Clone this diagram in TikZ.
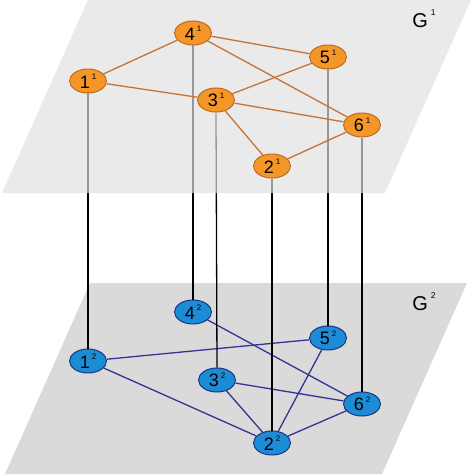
\documentclass[tikz,border=0pt]{standalone}
\usepackage{fontspec}
\setmainfont{Liberation Sans}
\usetikzlibrary{shapes.geometric}
\definecolor{topplane}{RGB}{224,224,224}
\definecolor{botplane}{RGB}{218,218,218}
\definecolor{orfill}{RGB}{244,150,40}
\definecolor{ordraw}{RGB}{190,108,34}
\definecolor{oredge}{RGB}{196,116,58}
\definecolor{blfill}{RGB}{28,140,214}
\definecolor{bldraw}{RGB}{26,54,128}
\definecolor{bledge}{RGB}{52,52,148}
\pgfdeclarelayer{lbplane}
\pgfdeclarelayer{lbedge}
\pgfdeclarelayer{lbnode}
\pgfdeclarelayer{lvert}
\pgfdeclarelayer{ltplane}
\pgfdeclarelayer{ltedge}
\pgfsetlayers{lbplane,lbedge,lbnode,lvert,ltplane,ltedge,main}
\tikzset{
  vtx/.style={ellipse, minimum width=37pt, minimum height=24pt, inner sep=0pt, line width=1pt, font=\fontsize{18}{18}\selectfont},
  onode/.style={vtx, fill=orfill, draw=ordraw},
  bnode/.style={vtx, fill=blfill, draw=bldraw},
  oline/.style={draw=oredge, line width=1.3pt},
  bline/.style={draw=bledge, line width=1.3pt},
  vline/.style={draw=black, line width=1.3pt},
  glabel/.style={font=\fontsize{20}{20}\selectfont},
}
\newcommand{\sps}[1]{\kern2pt\raisebox{8.5pt}{\fontsize{8}{8}\selectfont #1}}
\newcommand{\gsps}[1]{\kern3pt\raisebox{12pt}{\fontsize{8.5}{8.5}\selectfont #1}}
\begin{document}
\begin{tikzpicture}[x=1pt,y=-1pt]
\useasboundingbox (0,0) rectangle (474,476);
% planes
\begin{pgfonlayer}{lbplane}
\fill[botplane] (90,283) -- (467,283) -- (382,474) -- (5,474) -- cycle;
\node[glabel] (g2) at (424,302) {G\gsps{2}};
\end{pgfonlayer}
\begin{pgfonlayer}{ltplane}
\fill[topplane, fill opacity=0.68] (88,0) -- (471,0) -- (385,193) -- (2,193) -- cycle;
\node[glabel] (g1) at (424,19) {G\gsps{1}};
\end{pgfonlayer}
% bottom nodes
\begin{pgfonlayer}{lbnode}
\node[bnode] (b4) at (193,312) {4\sps{2}};
\node[bnode] (b5) at (328,338) {5\sps{2}};
\node[bnode] (b1) at (88,361) {1\sps{2}};
\node[bnode] (b3) at (217,380) {3\sps{2}};
\node[bnode] (b6) at (362,404) {6\sps{2}};
\node[bnode] (b2) at (272,443) {2\sps{2}};
\end{pgfonlayer}
% top nodes
\node[onode] (t4) at (193,33) {4\sps{1}};
\node[onode] (t5) at (328,57) {5\sps{1}};
\node[onode] (t1) at (88,81) {1\sps{1}};
\node[onode] (t3) at (216,100) {3\sps{1}};
\node[onode] (t6) at (362,125) {6\sps{1}};
\node[onode] (t2) at (272,166) {2\sps{1}};
% bottom edges
\begin{pgfonlayer}{lbedge}
\path[bline] (b4) -- (b6);
\path[bline] (b1) -- (b5);
\path[bline] (b1) -- (b2);
\path[bline] (b3) -- (b6);
\path[bline] (b3) -- (b2);
\path[bline] (b5) -- (b2);
\path[bline] (b6) -- (b2);
\end{pgfonlayer}
% vertical connectors
\begin{pgfonlayer}{lvert}
\path[vline] (t1.south) -- (b1.north);
\path[vline] (t4.south) -- (b4.north);
\path[vline] (t3.south) -- (b3.north);
\path[vline] (t2.south) -- (b2.north);
\path[vline] (t5.south) -- (b5.north);
\path[vline] (t6.south) -- (b6.north);
\end{pgfonlayer}
% top edges
\begin{pgfonlayer}{ltedge}
\path[oline] (t4) -- (t1);
\path[oline] (t4) -- (t5);
\path[oline] (t4) -- (t6);
\path[oline] (t1) -- (t3);
\path[oline] (t3) -- (t5);
\path[oline] (t3) -- (t6);
\path[oline] (t3) -- (t2);
\path[oline] (t6) -- (t2);
\end{pgfonlayer}
\end{tikzpicture}
\end{document}
